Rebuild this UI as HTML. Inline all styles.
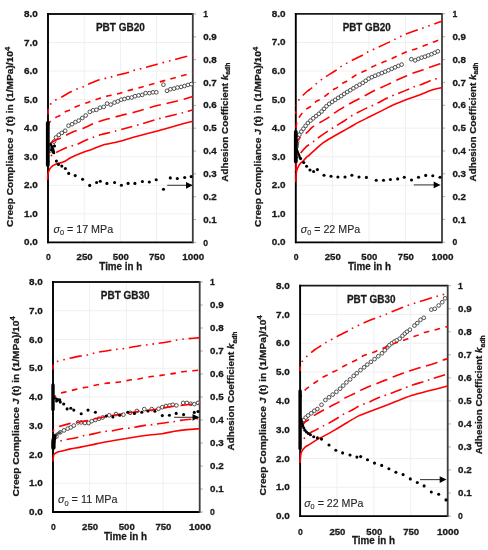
<!DOCTYPE html>
<html><head><meta charset="utf-8"><title>Creep compliance charts</title>
<style>html,body{margin:0;padding:0;background:#fff;}body{width:488px;height:550px;overflow:hidden;}svg{display:block;}</style>
</head><body>
<svg width="488" height="550" viewBox="0 0 488 550" font-family='"Liberation Sans", "DejaVu Sans", sans-serif'>
<style>.b{font-weight:bold;fill:#1a1a1a;stroke:#1a1a1a;stroke-width:0.28px;}</style>
<rect width="488" height="550" fill="#fff"/>
<g>
<path d="M84.20,14.00V242.40 M120.40,14.00V242.40 M156.60,14.00V242.40 M48.00,213.85H192.80 M48.00,185.30H192.80 M48.00,156.75H192.80 M48.00,128.20H192.80 M48.00,99.65H192.80 M48.00,71.10H192.80 M48.00,42.55H192.80" stroke="#f0f0f0" stroke-width="1" fill="none"/>
<path d="M192.80,242.40H196.00 M192.80,219.56H196.00 M192.80,196.72H196.00 M192.80,173.88H196.00 M192.80,151.04H196.00 M192.80,128.20H196.00 M192.80,105.36H196.00 M192.80,82.52H196.00 M192.80,59.68H196.00 M192.80,36.84H196.00 M192.80,14.00H196.00" stroke="#9a9a9a" stroke-width="0.8" fill="none"/>
<path d="M47.10,14.00H192.80" stroke="#1a1a1a" stroke-width="1.8"/>
<path d="M47.10,242.40H192.80" stroke="#000" stroke-width="1.8"/>
<path d="M48.00,13.10V243.30" stroke="#000" stroke-width="1.9"/>
<path d="M192.80,13.10V243.30" stroke="#3c3c3c" stroke-width="1.8"/>
<circle cx="56.00" cy="137.50" r="1.85" fill="#fff" stroke="#3c3c3c" stroke-width="0.9"/>
<circle cx="58.80" cy="134.90" r="1.85" fill="#fff" stroke="#3c3c3c" stroke-width="0.9"/>
<circle cx="61.80" cy="132.90" r="1.85" fill="#fff" stroke="#3c3c3c" stroke-width="0.9"/>
<circle cx="65.20" cy="130.80" r="1.85" fill="#fff" stroke="#3c3c3c" stroke-width="0.9"/>
<circle cx="68.50" cy="125.70" r="1.85" fill="#fff" stroke="#3c3c3c" stroke-width="0.9"/>
<circle cx="72.10" cy="124.20" r="1.85" fill="#fff" stroke="#3c3c3c" stroke-width="0.9"/>
<circle cx="75.50" cy="122.10" r="1.85" fill="#fff" stroke="#3c3c3c" stroke-width="0.9"/>
<circle cx="78.70" cy="120.60" r="1.85" fill="#fff" stroke="#3c3c3c" stroke-width="0.9"/>
<circle cx="82.30" cy="118.00" r="1.85" fill="#fff" stroke="#3c3c3c" stroke-width="0.9"/>
<circle cx="85.70" cy="115.50" r="1.85" fill="#fff" stroke="#3c3c3c" stroke-width="0.9"/>
<circle cx="89.80" cy="111.90" r="1.85" fill="#fff" stroke="#3c3c3c" stroke-width="0.9"/>
<circle cx="93.10" cy="110.30" r="1.85" fill="#fff" stroke="#3c3c3c" stroke-width="0.9"/>
<circle cx="96.40" cy="109.80" r="1.85" fill="#fff" stroke="#3c3c3c" stroke-width="0.9"/>
<circle cx="100.10" cy="107.70" r="1.85" fill="#fff" stroke="#3c3c3c" stroke-width="0.9"/>
<circle cx="103.70" cy="106.90" r="1.85" fill="#fff" stroke="#3c3c3c" stroke-width="0.9"/>
<circle cx="107.10" cy="103.60" r="1.85" fill="#fff" stroke="#3c3c3c" stroke-width="0.9"/>
<circle cx="110.70" cy="104.60" r="1.85" fill="#fff" stroke="#3c3c3c" stroke-width="0.9"/>
<circle cx="114.50" cy="102.60" r="1.85" fill="#fff" stroke="#3c3c3c" stroke-width="0.9"/>
<circle cx="117.80" cy="101.40" r="1.85" fill="#fff" stroke="#3c3c3c" stroke-width="0.9"/>
<circle cx="121.20" cy="99.70" r="1.85" fill="#fff" stroke="#3c3c3c" stroke-width="0.9"/>
<circle cx="124.50" cy="99.00" r="1.85" fill="#fff" stroke="#3c3c3c" stroke-width="0.9"/>
<circle cx="128.00" cy="98.00" r="1.85" fill="#fff" stroke="#3c3c3c" stroke-width="0.9"/>
<circle cx="131.70" cy="97.50" r="1.85" fill="#fff" stroke="#3c3c3c" stroke-width="0.9"/>
<circle cx="135.00" cy="96.20" r="1.85" fill="#fff" stroke="#3c3c3c" stroke-width="0.9"/>
<circle cx="138.60" cy="95.40" r="1.85" fill="#fff" stroke="#3c3c3c" stroke-width="0.9"/>
<circle cx="142.20" cy="94.90" r="1.85" fill="#fff" stroke="#3c3c3c" stroke-width="0.9"/>
<circle cx="145.60" cy="93.10" r="1.85" fill="#fff" stroke="#3c3c3c" stroke-width="0.9"/>
<circle cx="149.40" cy="93.10" r="1.85" fill="#fff" stroke="#3c3c3c" stroke-width="0.9"/>
<circle cx="153.00" cy="92.30" r="1.85" fill="#fff" stroke="#3c3c3c" stroke-width="0.9"/>
<circle cx="156.30" cy="92.30" r="1.85" fill="#fff" stroke="#3c3c3c" stroke-width="0.9"/>
<circle cx="163.40" cy="84.70" r="1.85" fill="#fff" stroke="#3c3c3c" stroke-width="0.9"/>
<circle cx="167.00" cy="90.80" r="1.85" fill="#fff" stroke="#3c3c3c" stroke-width="0.9"/>
<circle cx="170.40" cy="89.20" r="1.85" fill="#fff" stroke="#3c3c3c" stroke-width="0.9"/>
<circle cx="174.00" cy="88.60" r="1.85" fill="#fff" stroke="#3c3c3c" stroke-width="0.9"/>
<circle cx="177.50" cy="87.50" r="1.85" fill="#fff" stroke="#3c3c3c" stroke-width="0.9"/>
<circle cx="181.10" cy="86.90" r="1.85" fill="#fff" stroke="#3c3c3c" stroke-width="0.9"/>
<circle cx="184.50" cy="86.00" r="1.85" fill="#fff" stroke="#3c3c3c" stroke-width="0.9"/>
<circle cx="187.90" cy="84.90" r="1.85" fill="#fff" stroke="#3c3c3c" stroke-width="0.9"/>
<circle cx="191.30" cy="84.10" r="1.85" fill="#fff" stroke="#3c3c3c" stroke-width="0.9"/>
<circle cx="49.50" cy="148.00" r="1.85" fill="#fff" stroke="#3c3c3c" stroke-width="0.9"/>
<circle cx="51.00" cy="146.00" r="1.85" fill="#fff" stroke="#3c3c3c" stroke-width="0.9"/>
<circle cx="52.50" cy="144.50" r="1.85" fill="#fff" stroke="#3c3c3c" stroke-width="0.9"/>
<circle cx="54.00" cy="141.50" r="1.85" fill="#fff" stroke="#3c3c3c" stroke-width="0.9"/>
<circle cx="50.50" cy="150.50" r="1.85" fill="#fff" stroke="#3c3c3c" stroke-width="0.9"/>
<path d="M48.00,114.60 C48.05,113.67 48.13,110.43 48.30,109.00 C48.47,107.57 48.53,106.90 49.00,106.00 C49.47,105.10 49.93,104.63 51.10,103.60 C52.27,102.57 54.27,100.88 56.00,99.80 C57.73,98.72 59.83,97.98 61.50,97.10 C63.17,96.22 64.42,95.40 66.00,94.50 C67.58,93.60 69.22,92.60 71.00,91.70 C72.78,90.80 74.72,89.90 76.70,89.10 C78.68,88.30 80.93,87.70 82.90,86.90 C84.87,86.10 86.32,85.30 88.50,84.30 C90.68,83.30 93.27,81.88 96.00,80.90 C98.73,79.92 102.35,79.07 104.90,78.40 C107.45,77.73 109.30,77.42 111.30,76.90 C113.30,76.38 114.08,76.02 116.90,75.30 C119.72,74.58 125.38,73.42 128.20,72.60 C131.02,71.78 131.83,71.02 133.80,70.40 C135.77,69.78 137.95,69.43 140.00,68.90 C142.05,68.37 143.38,67.93 146.10,67.20 C148.82,66.47 151.57,65.77 156.30,64.50 C161.03,63.23 168.42,61.23 174.50,59.60 C180.58,57.97 189.75,55.52 192.80,54.70" stroke="#ff0000" stroke-width="1.60" fill="none" stroke-dasharray="12.30 4.90 1.60 4.90 1.60 4.90" stroke-dashoffset="6.50"/>
<path d="M48.00,128.00 C48.08,127.50 48.32,125.83 48.50,125.00 C48.68,124.17 48.52,123.87 49.10,123.00 C49.68,122.13 50.72,120.82 52.00,119.80 C53.28,118.78 55.42,117.65 56.80,116.90 C58.18,116.15 59.03,116.07 60.30,115.30 C61.57,114.53 62.82,113.18 64.40,112.30 C65.98,111.42 68.00,110.90 69.80,110.00 C71.60,109.10 72.50,108.05 75.20,106.90 C77.90,105.75 83.17,104.12 86.00,103.10 C88.83,102.08 88.85,101.92 92.20,100.80 C95.55,99.68 101.98,97.52 106.10,96.40 C110.22,95.28 113.30,95.03 116.90,94.10 C120.50,93.17 124.12,91.82 127.70,90.80 C131.28,89.78 135.77,88.72 138.40,88.00 C141.03,87.28 138.57,87.90 143.50,86.50 C148.43,85.10 159.78,81.90 168.00,79.60 C176.22,77.30 188.67,73.85 192.80,72.70" stroke="#ff0000" stroke-width="1.60" fill="none" stroke-dasharray="5.60 5.50" stroke-dashoffset="8.90"/>
<path d="M48.00,152.00 C48.08,151.17 48.17,148.33 48.50,147.00 C48.83,145.67 49.27,144.92 50.00,144.00 C50.73,143.08 51.00,142.55 52.90,141.50 C54.80,140.45 58.45,139.12 61.40,137.70 C64.35,136.28 66.75,134.67 70.60,133.00 C74.45,131.33 80.13,129.48 84.50,127.70 C88.87,125.92 92.45,123.88 96.80,122.30 C101.15,120.72 106.57,119.35 110.60,118.20 C114.63,117.05 117.20,116.37 121.00,115.40 C124.80,114.43 127.50,114.00 133.40,112.40 C139.30,110.80 149.23,107.67 156.40,105.80 C163.57,103.93 170.33,102.75 176.40,101.20 C182.47,99.65 190.07,97.28 192.80,96.50" stroke="#ff0000" stroke-width="1.60" fill="none" stroke-dasharray="11.60 6.00" stroke-dashoffset="8.29"/>
<path d="M48.00,165.00 C48.17,164.17 48.50,161.50 49.00,160.00 C49.50,158.50 49.97,157.17 51.00,156.00 C52.03,154.83 53.22,154.13 55.20,153.00 C57.18,151.87 60.33,150.33 62.90,149.20 C65.47,148.07 68.28,146.97 70.60,146.20 C72.92,145.43 74.48,145.50 76.80,144.60 C79.12,143.70 81.93,141.95 84.50,140.80 C87.07,139.65 89.38,138.73 92.20,137.70 C95.02,136.67 98.33,135.50 101.40,134.60 C104.47,133.70 107.32,133.13 110.60,132.30 C113.88,131.47 116.40,130.87 121.10,129.60 C125.80,128.33 132.13,126.62 138.80,124.70 C145.47,122.78 153.53,120.15 161.10,118.10 C168.67,116.05 178.92,113.77 184.20,112.40 C189.48,111.03 191.37,110.32 192.80,109.90" stroke="#ff0000" stroke-width="1.60" fill="none" stroke-dasharray="11.60 4.90 1.60 4.90" stroke-dashoffset="7.01"/>
<path d="M47.60,180.00 C47.63,179.33 47.65,177.33 47.80,176.00 C47.95,174.67 48.03,173.38 48.50,172.00 C48.97,170.62 49.48,168.93 50.60,167.70 C51.72,166.47 52.90,165.63 55.20,164.60 C57.50,163.57 61.83,162.65 64.40,161.50 C66.97,160.35 67.77,159.12 70.60,157.70 C73.43,156.28 77.80,154.42 81.40,153.00 C85.00,151.58 88.35,150.60 92.20,149.20 C96.05,147.80 100.03,145.88 104.50,144.60 C108.97,143.32 114.18,142.72 119.00,141.50 C123.82,140.28 127.17,139.02 133.40,137.30 C139.63,135.58 148.72,133.30 156.40,131.20 C164.08,129.10 173.43,126.37 179.50,124.70 C185.57,123.03 190.58,121.78 192.80,121.20" stroke="#ff0000" stroke-width="1.60" fill="none"/>
<path d="M47.80,123.00 C47.80,125.83 47.80,133.00 47.80,140.00 C47.80,147.00 47.80,160.83 47.80,165.00" stroke="#000" stroke-width="3.8" stroke-linecap="round" fill="none"/>
<path d="M50.50,144.00 C50.92,144.83 52.42,147.50 53.00,149.00 C53.58,150.50 53.83,152.33 54.00,153.00" stroke="#000" stroke-width="2.4" stroke-linecap="round" fill="none"/>
<circle cx="56.40" cy="161.10" r="1.55" fill="#000"/>
<circle cx="58.50" cy="164.40" r="1.55" fill="#000"/>
<circle cx="61.80" cy="166.10" r="1.55" fill="#000"/>
<circle cx="65.40" cy="168.50" r="1.55" fill="#000"/>
<circle cx="68.70" cy="173.40" r="1.55" fill="#000"/>
<circle cx="75.20" cy="175.60" r="1.55" fill="#000"/>
<circle cx="82.60" cy="179.20" r="1.55" fill="#000"/>
<circle cx="89.70" cy="185.40" r="1.55" fill="#000"/>
<circle cx="96.60" cy="182.50" r="1.55" fill="#000"/>
<circle cx="100.30" cy="181.30" r="1.55" fill="#000"/>
<circle cx="106.90" cy="183.40" r="1.55" fill="#000"/>
<circle cx="114.60" cy="182.50" r="1.55" fill="#000"/>
<circle cx="121.40" cy="185.30" r="1.55" fill="#000"/>
<circle cx="128.10" cy="183.40" r="1.55" fill="#000"/>
<circle cx="134.90" cy="183.40" r="1.55" fill="#000"/>
<circle cx="142.40" cy="181.50" r="1.55" fill="#000"/>
<circle cx="149.30" cy="182.00" r="1.55" fill="#000"/>
<circle cx="156.20" cy="179.80" r="1.55" fill="#000"/>
<circle cx="163.50" cy="189.20" r="1.55" fill="#000"/>
<circle cx="170.30" cy="177.90" r="1.55" fill="#000"/>
<circle cx="177.30" cy="178.50" r="1.55" fill="#000"/>
<circle cx="184.70" cy="177.50" r="1.55" fill="#000"/>
<circle cx="191.20" cy="176.60" r="1.55" fill="#000"/>
<circle cx="51.50" cy="150.00" r="1.55" fill="#000"/>
<circle cx="53.50" cy="152.50" r="1.55" fill="#000"/>
<circle cx="54.50" cy="146.00" r="1.55" fill="#000"/>
<path d="M167.20,185.30H187.80" stroke="#404040" stroke-width="1.1"/>
<path d="M186.00,181.90L192.80,185.30L186.00,188.70Z" fill="#000"/>
<text x="37.80" y="245.40" text-anchor="end" font-size="8.6" class="b" textLength="13.8" lengthAdjust="spacingAndGlyphs">0.0</text>
<text x="37.80" y="216.85" text-anchor="end" font-size="8.6" class="b" textLength="13.8" lengthAdjust="spacingAndGlyphs">1.0</text>
<text x="37.80" y="188.30" text-anchor="end" font-size="8.6" class="b" textLength="13.8" lengthAdjust="spacingAndGlyphs">2.0</text>
<text x="37.80" y="159.75" text-anchor="end" font-size="8.6" class="b" textLength="13.8" lengthAdjust="spacingAndGlyphs">3.0</text>
<text x="37.80" y="131.20" text-anchor="end" font-size="8.6" class="b" textLength="13.8" lengthAdjust="spacingAndGlyphs">4.0</text>
<text x="37.80" y="102.65" text-anchor="end" font-size="8.6" class="b" textLength="13.8" lengthAdjust="spacingAndGlyphs">5.0</text>
<text x="37.80" y="74.10" text-anchor="end" font-size="8.6" class="b" textLength="13.8" lengthAdjust="spacingAndGlyphs">6.0</text>
<text x="37.80" y="45.55" text-anchor="end" font-size="8.6" class="b" textLength="13.8" lengthAdjust="spacingAndGlyphs">7.0</text>
<text x="37.80" y="17.00" text-anchor="end" font-size="8.6" class="b" textLength="13.8" lengthAdjust="spacingAndGlyphs">8.0</text>
<text x="203.20" y="245.50" font-size="8.6" class="b">0</text>
<text x="203.20" y="222.66" font-size="8.6" class="b" textLength="13.6" lengthAdjust="spacingAndGlyphs">0.1</text>
<text x="203.20" y="199.82" font-size="8.6" class="b" textLength="13.6" lengthAdjust="spacingAndGlyphs">0.2</text>
<text x="203.20" y="176.98" font-size="8.6" class="b" textLength="13.6" lengthAdjust="spacingAndGlyphs">0.3</text>
<text x="203.20" y="154.14" font-size="8.6" class="b" textLength="13.6" lengthAdjust="spacingAndGlyphs">0.4</text>
<text x="203.20" y="131.30" font-size="8.6" class="b" textLength="13.6" lengthAdjust="spacingAndGlyphs">0.5</text>
<text x="203.20" y="108.46" font-size="8.6" class="b" textLength="13.6" lengthAdjust="spacingAndGlyphs">0.6</text>
<text x="203.20" y="85.62" font-size="8.6" class="b" textLength="13.6" lengthAdjust="spacingAndGlyphs">0.7</text>
<text x="203.20" y="62.78" font-size="8.6" class="b" textLength="13.6" lengthAdjust="spacingAndGlyphs">0.8</text>
<text x="203.20" y="39.94" font-size="8.6" class="b" textLength="13.6" lengthAdjust="spacingAndGlyphs">0.9</text>
<text x="203.20" y="17.10" font-size="8.6" class="b">1</text>
<text x="48.40" y="259.90" text-anchor="middle" font-size="8.6" class="b">0</text>
<text x="84.60" y="259.90" text-anchor="middle" font-size="8.6" class="b" textLength="16" lengthAdjust="spacingAndGlyphs">250</text>
<text x="120.80" y="259.90" text-anchor="middle" font-size="8.6" class="b" textLength="16" lengthAdjust="spacingAndGlyphs">500</text>
<text x="157.00" y="259.90" text-anchor="middle" font-size="8.6" class="b" textLength="16" lengthAdjust="spacingAndGlyphs">750</text>
<text x="193.20" y="259.90" text-anchor="middle" font-size="8.6" class="b" textLength="22" lengthAdjust="spacingAndGlyphs">1000</text>
<text x="120.80" y="269.60" text-anchor="middle" font-size="10.6" class="b" textLength="43" lengthAdjust="spacingAndGlyphs">Time in h</text>
<text x="95.90" y="30.80" font-size="11" class="b" textLength="48.9" lengthAdjust="spacingAndGlyphs">PBT GB20</text>
<text x="53.40" y="232.70" font-size="10.8" fill="#262626" stroke="#262626" stroke-width="0.12" textLength="59.8" lengthAdjust="spacingAndGlyphs"><tspan font-style="italic">σ</tspan><tspan font-size="7.4" dy="2.4">0</tspan><tspan dy="-2.4"> = 17 MPa</tspan></text>
<text transform="translate(13.20,136.90) rotate(-90)" text-anchor="middle" font-size="9.5" class="b" textLength="180" lengthAdjust="spacingAndGlyphs">Creep Compliance <tspan font-style="italic">J</tspan> (t) in (1/MPa)/10<tspan font-size="7" dy="-3.6">4</tspan></text>
<text transform="translate(227.60,122.20) rotate(-90)" text-anchor="middle" font-size="9.6" class="b" textLength="119" lengthAdjust="spacingAndGlyphs">Adhesion Coefficient <tspan font-style="italic">k</tspan><tspan font-size="6.6" dy="2.6">adh</tspan></text>
</g>
<g>
<path d="M332.35,13.90V242.30 M368.90,13.90V242.30 M405.45,13.90V242.30 M295.80,213.75H442.00 M295.80,185.20H442.00 M295.80,156.65H442.00 M295.80,128.10H442.00 M295.80,99.55H442.00 M295.80,71.00H442.00 M295.80,42.45H442.00" stroke="#f0f0f0" stroke-width="1" fill="none"/>
<path d="M442.00,242.30H445.20 M442.00,219.46H445.20 M442.00,196.62H445.20 M442.00,173.78H445.20 M442.00,150.94H445.20 M442.00,128.10H445.20 M442.00,105.26H445.20 M442.00,82.42H445.20 M442.00,59.58H445.20 M442.00,36.74H445.20 M442.00,13.90H445.20" stroke="#9a9a9a" stroke-width="0.8" fill="none"/>
<path d="M294.90,13.90H442.00" stroke="#1a1a1a" stroke-width="1.8"/>
<path d="M294.90,242.30H442.00" stroke="#000" stroke-width="1.8"/>
<path d="M295.80,13.00V243.20" stroke="#000" stroke-width="1.9"/>
<path d="M442.00,13.00V243.20" stroke="#3c3c3c" stroke-width="1.8"/>
<circle cx="297.20" cy="141.50" r="1.85" fill="#fff" stroke="#3c3c3c" stroke-width="0.9"/>
<circle cx="298.01" cy="138.00" r="1.85" fill="#fff" stroke="#3c3c3c" stroke-width="0.9"/>
<circle cx="299.37" cy="134.67" r="1.85" fill="#fff" stroke="#3c3c3c" stroke-width="0.9"/>
<circle cx="301.28" cy="131.63" r="1.85" fill="#fff" stroke="#3c3c3c" stroke-width="0.9"/>
<circle cx="303.43" cy="128.75" r="1.85" fill="#fff" stroke="#3c3c3c" stroke-width="0.9"/>
<circle cx="305.60" cy="125.87" r="1.85" fill="#fff" stroke="#3c3c3c" stroke-width="0.9"/>
<circle cx="307.85" cy="123.07" r="1.85" fill="#fff" stroke="#3c3c3c" stroke-width="0.9"/>
<circle cx="310.49" cy="120.62" r="1.85" fill="#fff" stroke="#3c3c3c" stroke-width="0.9"/>
<circle cx="313.25" cy="118.32" r="1.85" fill="#fff" stroke="#3c3c3c" stroke-width="0.9"/>
<circle cx="316.05" cy="116.06" r="1.85" fill="#fff" stroke="#3c3c3c" stroke-width="0.9"/>
<circle cx="318.86" cy="113.81" r="1.85" fill="#fff" stroke="#3c3c3c" stroke-width="0.9"/>
<circle cx="321.61" cy="111.50" r="1.85" fill="#fff" stroke="#3c3c3c" stroke-width="0.9"/>
<circle cx="323.99" cy="108.81" r="1.85" fill="#fff" stroke="#3c3c3c" stroke-width="0.9"/>
<circle cx="326.47" cy="106.20" r="1.85" fill="#fff" stroke="#3c3c3c" stroke-width="0.9"/>
<circle cx="329.20" cy="103.88" r="1.85" fill="#fff" stroke="#3c3c3c" stroke-width="0.9"/>
<circle cx="332.19" cy="101.87" r="1.85" fill="#fff" stroke="#3c3c3c" stroke-width="0.9"/>
<circle cx="335.18" cy="99.88" r="1.85" fill="#fff" stroke="#3c3c3c" stroke-width="0.9"/>
<circle cx="338.17" cy="97.86" r="1.85" fill="#fff" stroke="#3c3c3c" stroke-width="0.9"/>
<circle cx="341.26" cy="96.02" r="1.85" fill="#fff" stroke="#3c3c3c" stroke-width="0.9"/>
<circle cx="344.19" cy="93.94" r="1.85" fill="#fff" stroke="#3c3c3c" stroke-width="0.9"/>
<circle cx="347.20" cy="91.97" r="1.85" fill="#fff" stroke="#3c3c3c" stroke-width="0.9"/>
<circle cx="350.31" cy="90.16" r="1.85" fill="#fff" stroke="#3c3c3c" stroke-width="0.9"/>
<circle cx="353.39" cy="88.28" r="1.85" fill="#fff" stroke="#3c3c3c" stroke-width="0.9"/>
<circle cx="356.46" cy="86.40" r="1.85" fill="#fff" stroke="#3c3c3c" stroke-width="0.9"/>
<circle cx="359.61" cy="84.66" r="1.85" fill="#fff" stroke="#3c3c3c" stroke-width="0.9"/>
<circle cx="362.76" cy="82.92" r="1.85" fill="#fff" stroke="#3c3c3c" stroke-width="0.9"/>
<circle cx="365.68" cy="80.82" r="1.85" fill="#fff" stroke="#3c3c3c" stroke-width="0.9"/>
<circle cx="368.60" cy="78.71" r="1.85" fill="#fff" stroke="#3c3c3c" stroke-width="0.9"/>
<circle cx="371.82" cy="77.15" r="1.85" fill="#fff" stroke="#3c3c3c" stroke-width="0.9"/>
<circle cx="375.15" cy="75.77" r="1.85" fill="#fff" stroke="#3c3c3c" stroke-width="0.9"/>
<circle cx="378.48" cy="74.40" r="1.85" fill="#fff" stroke="#3c3c3c" stroke-width="0.9"/>
<circle cx="381.81" cy="73.05" r="1.85" fill="#fff" stroke="#3c3c3c" stroke-width="0.9"/>
<circle cx="385.14" cy="71.68" r="1.85" fill="#fff" stroke="#3c3c3c" stroke-width="0.9"/>
<circle cx="388.44" cy="70.25" r="1.85" fill="#fff" stroke="#3c3c3c" stroke-width="0.9"/>
<circle cx="391.74" cy="68.80" r="1.85" fill="#fff" stroke="#3c3c3c" stroke-width="0.9"/>
<circle cx="395.03" cy="67.34" r="1.85" fill="#fff" stroke="#3c3c3c" stroke-width="0.9"/>
<circle cx="398.33" cy="65.89" r="1.85" fill="#fff" stroke="#3c3c3c" stroke-width="0.9"/>
<circle cx="401.67" cy="64.58" r="1.85" fill="#fff" stroke="#3c3c3c" stroke-width="0.9"/>
<circle cx="411.30" cy="59.20" r="1.85" fill="#fff" stroke="#3c3c3c" stroke-width="0.9"/>
<circle cx="415.20" cy="60.40" r="1.85" fill="#fff" stroke="#3c3c3c" stroke-width="0.9"/>
<circle cx="418.35" cy="58.87" r="1.85" fill="#fff" stroke="#3c3c3c" stroke-width="0.9"/>
<circle cx="421.61" cy="57.61" r="1.85" fill="#fff" stroke="#3c3c3c" stroke-width="0.9"/>
<circle cx="424.98" cy="56.68" r="1.85" fill="#fff" stroke="#3c3c3c" stroke-width="0.9"/>
<circle cx="428.23" cy="55.40" r="1.85" fill="#fff" stroke="#3c3c3c" stroke-width="0.9"/>
<circle cx="431.51" cy="54.20" r="1.85" fill="#fff" stroke="#3c3c3c" stroke-width="0.9"/>
<circle cx="434.70" cy="52.78" r="1.85" fill="#fff" stroke="#3c3c3c" stroke-width="0.9"/>
<circle cx="437.86" cy="51.30" r="1.85" fill="#fff" stroke="#3c3c3c" stroke-width="0.9"/>
<circle cx="296.80" cy="144.00" r="1.85" fill="#fff" stroke="#3c3c3c" stroke-width="0.9"/>
<circle cx="296.60" cy="146.50" r="1.85" fill="#fff" stroke="#3c3c3c" stroke-width="0.9"/>
<path d="M296.00,114.00 C296.05,112.67 296.13,108.00 296.30,106.00 C296.47,104.00 296.58,103.00 297.00,102.00 C297.42,101.00 297.88,101.05 298.80,100.00 C299.72,98.95 301.13,97.12 302.50,95.70 C303.87,94.28 305.47,92.78 307.00,91.50 C308.53,90.22 310.20,89.25 311.70,88.00 C313.20,86.75 314.43,85.35 316.00,84.00 C317.57,82.65 319.47,81.13 321.10,79.90 C322.73,78.67 323.37,78.17 325.80,76.60 C328.23,75.03 333.23,72.13 335.70,70.50 C338.17,68.87 338.90,67.93 340.60,66.80 C342.30,65.67 344.05,64.73 345.90,63.70 C347.75,62.67 349.10,61.93 351.70,60.60 C354.30,59.27 358.98,57.03 361.50,55.70 C364.02,54.37 364.95,53.58 366.80,52.60 C368.65,51.62 370.62,50.73 372.60,49.80 C374.58,48.87 375.93,48.28 378.70,47.00 C381.47,45.72 386.62,43.33 389.20,42.10 C391.78,40.87 392.43,40.48 394.20,39.60 C395.97,38.72 397.93,37.68 399.80,36.80 C401.67,35.92 402.63,35.38 405.40,34.30 C408.17,33.22 413.60,31.28 416.40,30.30 C419.20,29.32 420.25,29.12 422.20,28.40 C424.15,27.68 426.18,26.72 428.10,26.00 C430.02,25.28 431.38,24.90 433.70,24.10 C436.02,23.30 440.62,21.68 442.00,21.20" stroke="#ff0000" stroke-width="1.60" fill="none" stroke-dasharray="12.30 4.90 1.60 4.90 1.60 4.90" stroke-dashoffset="9.45"/>
<path d="M296.00,130.00 C296.08,129.00 296.25,125.75 296.50,124.00 C296.75,122.25 297.12,120.53 297.50,119.50 C297.88,118.47 297.97,118.90 298.80,117.80 C299.63,116.70 301.28,114.33 302.50,112.90 C303.72,111.47 304.78,110.25 306.10,109.20 C307.42,108.15 308.97,107.73 310.40,106.60 C311.83,105.47 313.15,103.57 314.70,102.40 C316.25,101.23 318.15,100.52 319.70,99.60 C321.25,98.68 322.47,97.97 324.00,96.90 C325.53,95.83 327.47,94.33 328.90,93.20 C330.33,92.07 331.17,91.08 332.60,90.10 C334.03,89.12 335.87,88.42 337.50,87.30 C339.13,86.18 340.77,84.47 342.40,83.40 C344.03,82.33 345.75,81.82 347.30,80.90 C348.85,79.98 350.15,78.93 351.70,77.90 C353.25,76.87 354.97,75.62 356.60,74.70 C358.23,73.78 359.87,73.15 361.50,72.40 C363.13,71.65 364.75,71.05 366.40,70.20 C368.05,69.35 369.75,68.18 371.40,67.30 C373.05,66.42 374.67,65.62 376.30,64.90 C377.93,64.18 379.47,63.72 381.20,63.00 C382.93,62.28 385.05,61.28 386.70,60.60 C388.35,59.92 389.53,59.58 391.10,58.90 C392.67,58.22 394.33,57.33 396.10,56.50 C397.87,55.67 399.95,54.68 401.70,53.90 C403.45,53.12 404.87,52.45 406.60,51.80 C408.33,51.15 410.37,50.55 412.10,50.00 C413.83,49.45 415.25,49.12 417.00,48.50 C418.75,47.88 420.85,46.98 422.60,46.30 C424.35,45.62 425.77,45.08 427.50,44.40 C429.23,43.72 431.15,42.92 433.00,42.20 C434.85,41.48 437.10,40.63 438.60,40.10 C440.10,39.57 441.43,39.18 442.00,39.00" stroke="#ff0000" stroke-width="1.60" fill="none" stroke-dasharray="5.60 5.50" stroke-dashoffset="9.10"/>
<path d="M296.00,150.00 C296.08,149.17 296.25,146.50 296.50,145.00 C296.75,143.50 296.92,142.25 297.50,141.00 C298.08,139.75 298.45,138.88 300.00,137.50 C301.55,136.12 304.75,134.42 306.80,132.70 C308.85,130.98 310.05,128.93 312.30,127.20 C314.55,125.47 317.43,124.03 320.30,122.30 C323.17,120.57 327.05,118.42 329.50,116.80 C331.95,115.18 332.65,114.18 335.00,112.60 C337.35,111.02 340.93,108.90 343.60,107.30 C346.27,105.70 348.30,104.50 351.00,103.00 C353.70,101.50 357.52,99.50 359.80,98.30 C362.08,97.10 362.15,97.13 364.70,95.80 C367.25,94.47 372.43,91.63 375.10,90.30 C377.77,88.97 378.03,89.03 380.70,87.80 C383.37,86.57 388.47,84.15 391.10,82.90 C393.73,81.65 393.90,81.48 396.50,80.30 C399.10,79.12 404.08,76.95 406.70,75.80 C409.32,74.65 409.43,74.42 412.20,73.40 C414.97,72.38 420.63,70.63 423.30,69.70 C425.97,68.77 425.53,68.73 428.20,67.80 C430.87,66.87 437.00,64.87 439.30,64.10 C441.60,63.33 441.55,63.35 442.00,63.20" stroke="#ff0000" stroke-width="1.60" fill="none" stroke-dasharray="11.60 6.00" stroke-dashoffset="14.80"/>
<path d="M296.00,171.00 C296.03,169.83 295.98,166.08 296.20,164.00 C296.42,161.92 296.77,160.07 297.30,158.50 C297.83,156.93 297.93,156.53 299.40,154.60 C300.87,152.67 304.05,148.83 306.10,146.90 C308.15,144.97 309.95,144.33 311.70,143.00 C313.45,141.67 314.15,140.72 316.60,138.90 C319.05,137.08 323.98,133.73 326.40,132.10 C328.82,130.47 329.45,130.17 331.10,129.10 C332.75,128.03 334.00,127.13 336.30,125.70 C338.60,124.27 342.53,122.05 344.90,120.50 C347.27,118.95 348.53,117.65 350.50,116.40 C352.47,115.15 354.03,114.38 356.70,113.00 C359.37,111.62 363.95,109.32 366.50,108.10 C369.05,106.88 370.15,106.55 372.00,105.70 C373.85,104.85 374.93,104.33 377.60,103.00 C380.27,101.67 385.33,99.00 388.00,97.70 C390.67,96.40 391.72,95.98 393.60,95.20 C395.48,94.42 396.60,94.08 399.30,93.00 C402.00,91.92 407.13,89.82 409.80,88.70 C412.47,87.58 413.37,87.02 415.30,86.30 C417.23,85.58 418.63,85.43 421.40,84.40 C424.17,83.37 429.17,81.12 431.90,80.10 C434.63,79.08 436.12,78.85 437.80,78.30 C439.48,77.75 441.30,77.05 442.00,76.80" stroke="#ff0000" stroke-width="1.60" fill="none" stroke-dasharray="11.60 4.90 1.60 4.90" stroke-dashoffset="3.68"/>
<path d="M295.90,182.00 C295.93,180.83 295.97,176.85 296.10,175.00 C296.23,173.15 296.32,172.32 296.70,170.90 C297.08,169.48 297.77,167.77 298.40,166.50 C299.03,165.23 299.73,164.20 300.50,163.30 C301.27,162.40 302.08,162.02 303.00,161.10 C303.92,160.18 304.95,158.80 306.00,157.80 C307.05,156.80 307.95,156.30 309.30,155.10 C310.65,153.90 311.87,152.58 314.10,150.60 C316.33,148.62 319.62,145.47 322.70,143.20 C325.78,140.93 329.32,138.95 332.60,137.00 C335.88,135.05 339.17,133.33 342.40,131.50 C345.63,129.67 349.52,127.43 352.00,126.00 C354.48,124.57 354.37,124.45 357.30,122.90 C360.23,121.35 365.50,118.75 369.60,116.70 C373.70,114.65 377.80,112.62 381.90,110.60 C386.00,108.58 389.97,106.50 394.20,104.60 C398.43,102.70 403.07,100.82 407.30,99.20 C411.53,97.58 415.50,96.43 419.60,94.90 C423.70,93.37 428.17,91.23 431.90,90.00 C435.63,88.77 440.32,87.92 442.00,87.50" stroke="#ff0000" stroke-width="1.60" fill="none"/>
<path d="M295.80,132.00 C295.80,134.17 295.80,140.10 295.80,145.00 C295.80,149.90 295.80,158.67 295.80,161.40" stroke="#000" stroke-width="3.8" stroke-linecap="round" fill="none"/>
<path d="M297.00,150.00 C297.33,150.83 298.50,153.67 299.00,155.00 C299.50,156.33 299.83,157.50 300.00,158.00" stroke="#000" stroke-width="2.2" stroke-linecap="round" fill="none"/>
<circle cx="300.60" cy="158.60" r="1.55" fill="#000"/>
<circle cx="303.70" cy="162.50" r="1.55" fill="#000"/>
<circle cx="306.60" cy="166.20" r="1.55" fill="#000"/>
<circle cx="310.00" cy="170.00" r="1.55" fill="#000"/>
<circle cx="313.60" cy="171.50" r="1.55" fill="#000"/>
<circle cx="317.40" cy="169.60" r="1.55" fill="#000"/>
<circle cx="324.00" cy="175.20" r="1.55" fill="#000"/>
<circle cx="331.00" cy="176.20" r="1.55" fill="#000"/>
<circle cx="337.90" cy="177.00" r="1.55" fill="#000"/>
<circle cx="345.00" cy="177.00" r="1.55" fill="#000"/>
<circle cx="351.90" cy="175.20" r="1.55" fill="#000"/>
<circle cx="359.00" cy="177.00" r="1.55" fill="#000"/>
<circle cx="366.40" cy="177.40" r="1.55" fill="#000"/>
<circle cx="376.20" cy="180.30" r="1.55" fill="#000"/>
<circle cx="383.50" cy="180.30" r="1.55" fill="#000"/>
<circle cx="390.40" cy="179.50" r="1.55" fill="#000"/>
<circle cx="397.70" cy="178.90" r="1.55" fill="#000"/>
<circle cx="404.30" cy="177.20" r="1.55" fill="#000"/>
<circle cx="411.50" cy="180.00" r="1.55" fill="#000"/>
<circle cx="418.50" cy="177.20" r="1.55" fill="#000"/>
<circle cx="425.70" cy="175.40" r="1.55" fill="#000"/>
<circle cx="432.80" cy="175.70" r="1.55" fill="#000"/>
<circle cx="440.00" cy="177.20" r="1.55" fill="#000"/>
<path d="M413.80,184.90H435.50" stroke="#404040" stroke-width="1.1"/>
<path d="M433.70,181.50L440.50,184.90L433.70,188.30Z" fill="#000"/>
<text x="285.60" y="245.30" text-anchor="end" font-size="8.6" class="b" textLength="13.8" lengthAdjust="spacingAndGlyphs">0.0</text>
<text x="285.60" y="216.75" text-anchor="end" font-size="8.6" class="b" textLength="13.8" lengthAdjust="spacingAndGlyphs">1.0</text>
<text x="285.60" y="188.20" text-anchor="end" font-size="8.6" class="b" textLength="13.8" lengthAdjust="spacingAndGlyphs">2.0</text>
<text x="285.60" y="159.65" text-anchor="end" font-size="8.6" class="b" textLength="13.8" lengthAdjust="spacingAndGlyphs">3.0</text>
<text x="285.60" y="131.10" text-anchor="end" font-size="8.6" class="b" textLength="13.8" lengthAdjust="spacingAndGlyphs">4.0</text>
<text x="285.60" y="102.55" text-anchor="end" font-size="8.6" class="b" textLength="13.8" lengthAdjust="spacingAndGlyphs">5.0</text>
<text x="285.60" y="74.00" text-anchor="end" font-size="8.6" class="b" textLength="13.8" lengthAdjust="spacingAndGlyphs">6.0</text>
<text x="285.60" y="45.45" text-anchor="end" font-size="8.6" class="b" textLength="13.8" lengthAdjust="spacingAndGlyphs">7.0</text>
<text x="285.60" y="16.90" text-anchor="end" font-size="8.6" class="b" textLength="13.8" lengthAdjust="spacingAndGlyphs">8.0</text>
<text x="452.40" y="245.40" font-size="8.6" class="b">0</text>
<text x="452.40" y="222.56" font-size="8.6" class="b" textLength="13.6" lengthAdjust="spacingAndGlyphs">0.1</text>
<text x="452.40" y="199.72" font-size="8.6" class="b" textLength="13.6" lengthAdjust="spacingAndGlyphs">0.2</text>
<text x="452.40" y="176.88" font-size="8.6" class="b" textLength="13.6" lengthAdjust="spacingAndGlyphs">0.3</text>
<text x="452.40" y="154.04" font-size="8.6" class="b" textLength="13.6" lengthAdjust="spacingAndGlyphs">0.4</text>
<text x="452.40" y="131.20" font-size="8.6" class="b" textLength="13.6" lengthAdjust="spacingAndGlyphs">0.5</text>
<text x="452.40" y="108.36" font-size="8.6" class="b" textLength="13.6" lengthAdjust="spacingAndGlyphs">0.6</text>
<text x="452.40" y="85.52" font-size="8.6" class="b" textLength="13.6" lengthAdjust="spacingAndGlyphs">0.7</text>
<text x="452.40" y="62.68" font-size="8.6" class="b" textLength="13.6" lengthAdjust="spacingAndGlyphs">0.8</text>
<text x="452.40" y="39.84" font-size="8.6" class="b" textLength="13.6" lengthAdjust="spacingAndGlyphs">0.9</text>
<text x="452.40" y="17.00" font-size="8.6" class="b">1</text>
<text x="296.20" y="259.80" text-anchor="middle" font-size="8.6" class="b">0</text>
<text x="332.75" y="259.80" text-anchor="middle" font-size="8.6" class="b" textLength="16" lengthAdjust="spacingAndGlyphs">250</text>
<text x="369.30" y="259.80" text-anchor="middle" font-size="8.6" class="b" textLength="16" lengthAdjust="spacingAndGlyphs">500</text>
<text x="405.85" y="259.80" text-anchor="middle" font-size="8.6" class="b" textLength="16" lengthAdjust="spacingAndGlyphs">750</text>
<text x="442.40" y="259.80" text-anchor="middle" font-size="8.6" class="b" textLength="22" lengthAdjust="spacingAndGlyphs">1000</text>
<text x="369.50" y="269.90" text-anchor="middle" font-size="10.6" class="b" textLength="43" lengthAdjust="spacingAndGlyphs">Time in h</text>
<text x="342.70" y="30.80" font-size="11" class="b" textLength="48.0" lengthAdjust="spacingAndGlyphs">PBT GB20</text>
<text x="300.70" y="233.00" font-size="10.8" fill="#262626" stroke="#262626" stroke-width="0.12" textLength="59.5" lengthAdjust="spacingAndGlyphs"><tspan font-style="italic">σ</tspan><tspan font-size="7.4" dy="2.4">0</tspan><tspan dy="-2.4"> = 22 MPa</tspan></text>
<text transform="translate(261.10,136.90) rotate(-90)" text-anchor="middle" font-size="9.5" class="b" textLength="180" lengthAdjust="spacingAndGlyphs">Creep Compliance <tspan font-style="italic">J</tspan> (t) in (1/MPa)/10<tspan font-size="7" dy="-3.6">4</tspan></text>
<text transform="translate(475.60,122.00) rotate(-90)" text-anchor="middle" font-size="9.6" class="b" textLength="119" lengthAdjust="spacingAndGlyphs">Adhesion Coefficient <tspan font-style="italic">k</tspan><tspan font-size="6.6" dy="2.6">adh</tspan></text>
</g>
<g>
<path d="M89.67,282.00V512.00 M126.35,282.00V512.00 M163.02,282.00V512.00 M53.00,483.25H199.70 M53.00,454.50H199.70 M53.00,425.75H199.70 M53.00,397.00H199.70 M53.00,368.25H199.70 M53.00,339.50H199.70 M53.00,310.75H199.70" stroke="#f0f0f0" stroke-width="1" fill="none"/>
<path d="M199.70,512.00H202.90 M199.70,489.00H202.90 M199.70,466.00H202.90 M199.70,443.00H202.90 M199.70,420.00H202.90 M199.70,397.00H202.90 M199.70,374.00H202.90 M199.70,351.00H202.90 M199.70,328.00H202.90 M199.70,305.00H202.90 M199.70,282.00H202.90" stroke="#9a9a9a" stroke-width="0.8" fill="none"/>
<path d="M52.10,282.00H199.70" stroke="#1a1a1a" stroke-width="1.8"/>
<path d="M52.10,512.00H199.70" stroke="#000" stroke-width="1.8"/>
<path d="M53.00,281.10V512.90" stroke="#000" stroke-width="1.9"/>
<path d="M199.70,281.10V512.90" stroke="#3c3c3c" stroke-width="1.8"/>
<circle cx="56.50" cy="436.50" r="1.85" fill="#fff" stroke="#3c3c3c" stroke-width="0.9"/>
<circle cx="60.30" cy="432.30" r="1.85" fill="#fff" stroke="#3c3c3c" stroke-width="0.9"/>
<circle cx="64.00" cy="430.40" r="1.85" fill="#fff" stroke="#3c3c3c" stroke-width="0.9"/>
<circle cx="67.70" cy="428.60" r="1.85" fill="#fff" stroke="#3c3c3c" stroke-width="0.9"/>
<circle cx="70.80" cy="427.40" r="1.85" fill="#fff" stroke="#3c3c3c" stroke-width="0.9"/>
<circle cx="73.80" cy="425.50" r="1.85" fill="#fff" stroke="#3c3c3c" stroke-width="0.9"/>
<circle cx="78.10" cy="422.40" r="1.85" fill="#fff" stroke="#3c3c3c" stroke-width="0.9"/>
<circle cx="81.20" cy="422.40" r="1.85" fill="#fff" stroke="#3c3c3c" stroke-width="0.9"/>
<circle cx="84.90" cy="423.00" r="1.85" fill="#fff" stroke="#3c3c3c" stroke-width="0.9"/>
<circle cx="88.60" cy="423.00" r="1.85" fill="#fff" stroke="#3c3c3c" stroke-width="0.9"/>
<circle cx="91.70" cy="421.20" r="1.85" fill="#fff" stroke="#3c3c3c" stroke-width="0.9"/>
<circle cx="95.40" cy="420.00" r="1.85" fill="#fff" stroke="#3c3c3c" stroke-width="0.9"/>
<circle cx="99.00" cy="418.70" r="1.85" fill="#fff" stroke="#3c3c3c" stroke-width="0.9"/>
<circle cx="102.70" cy="417.50" r="1.85" fill="#fff" stroke="#3c3c3c" stroke-width="0.9"/>
<circle cx="109.20" cy="415.30" r="1.85" fill="#fff" stroke="#3c3c3c" stroke-width="0.9"/>
<circle cx="116.00" cy="414.10" r="1.85" fill="#fff" stroke="#3c3c3c" stroke-width="0.9"/>
<circle cx="123.40" cy="414.70" r="1.85" fill="#fff" stroke="#3c3c3c" stroke-width="0.9"/>
<circle cx="130.10" cy="412.80" r="1.85" fill="#fff" stroke="#3c3c3c" stroke-width="0.9"/>
<circle cx="136.90" cy="411.00" r="1.85" fill="#fff" stroke="#3c3c3c" stroke-width="0.9"/>
<circle cx="144.30" cy="409.10" r="1.85" fill="#fff" stroke="#3c3c3c" stroke-width="0.9"/>
<circle cx="151.70" cy="409.10" r="1.85" fill="#fff" stroke="#3c3c3c" stroke-width="0.9"/>
<circle cx="158.50" cy="408.80" r="1.85" fill="#fff" stroke="#3c3c3c" stroke-width="0.9"/>
<circle cx="162.30" cy="407.20" r="1.85" fill="#fff" stroke="#3c3c3c" stroke-width="0.9"/>
<circle cx="166.00" cy="406.00" r="1.85" fill="#fff" stroke="#3c3c3c" stroke-width="0.9"/>
<circle cx="169.70" cy="405.40" r="1.85" fill="#fff" stroke="#3c3c3c" stroke-width="0.9"/>
<circle cx="172.80" cy="404.80" r="1.85" fill="#fff" stroke="#3c3c3c" stroke-width="0.9"/>
<circle cx="176.40" cy="405.40" r="1.85" fill="#fff" stroke="#3c3c3c" stroke-width="0.9"/>
<circle cx="183.20" cy="402.90" r="1.85" fill="#fff" stroke="#3c3c3c" stroke-width="0.9"/>
<circle cx="186.90" cy="402.90" r="1.85" fill="#fff" stroke="#3c3c3c" stroke-width="0.9"/>
<circle cx="190.60" cy="403.80" r="1.85" fill="#fff" stroke="#3c3c3c" stroke-width="0.9"/>
<circle cx="194.30" cy="404.10" r="1.85" fill="#fff" stroke="#3c3c3c" stroke-width="0.9"/>
<circle cx="198.00" cy="402.90" r="1.85" fill="#fff" stroke="#3c3c3c" stroke-width="0.9"/>
<path d="M55.00,435.50 C55.42,435.18 56.67,434.10 57.50,433.60 C58.33,433.10 59.58,432.68 60.00,432.50" stroke="#555" stroke-width="2.6" stroke-linecap="round" fill="none"/>
<path d="M53.00,369.50 C53.03,368.92 53.03,367.00 53.20,366.00 C53.37,365.00 53.30,364.27 54.00,363.50 C54.70,362.73 55.82,362.02 57.40,361.40 C58.98,360.78 61.45,360.32 63.50,359.80 C65.55,359.28 66.93,358.92 69.70,358.30 C72.47,357.68 77.27,356.62 80.10,356.10 C82.93,355.58 84.58,355.65 86.70,355.20 C88.82,354.75 90.82,353.92 92.80,353.40 C94.78,352.88 95.73,352.62 98.60,352.10 C101.47,351.58 107.10,350.75 110.00,350.30 C112.90,349.85 113.92,349.67 116.00,349.40 C118.08,349.13 120.35,348.97 122.50,348.70 C124.65,348.43 126.08,348.30 128.90,347.80 C131.72,347.30 136.58,346.17 139.40,345.70 C142.22,345.23 143.65,345.27 145.80,345.00 C147.95,344.73 150.27,344.37 152.30,344.10 C154.33,343.83 155.10,343.83 158.00,343.40 C160.90,342.97 166.77,342.02 169.70,341.50 C172.63,340.98 173.60,340.67 175.60,340.30 C177.60,339.93 179.62,339.57 181.70,339.30 C183.78,339.03 185.10,338.98 188.10,338.70 C191.10,338.42 197.77,337.78 199.70,337.60" stroke="#ff0000" stroke-width="1.60" fill="none" stroke-dasharray="12.30 4.90 1.60 4.90 1.60 4.90" stroke-dashoffset="7.48"/>
<path d="M53.00,400.00 C53.08,399.58 53.10,398.17 53.50,397.50 C53.90,396.83 54.37,396.67 55.40,396.00 C56.43,395.33 57.87,394.22 59.70,393.50 C61.53,392.78 64.45,392.20 66.40,391.70 C68.35,391.20 69.45,390.97 71.40,390.50 C73.35,390.03 76.05,389.38 78.10,388.90 C80.15,388.42 81.85,387.95 83.70,387.60 C85.55,387.25 87.47,387.15 89.20,386.80 C90.93,386.45 92.35,385.90 94.10,385.50 C95.85,385.10 97.92,384.73 99.70,384.40 C101.48,384.07 103.00,383.77 104.80,383.50 C106.60,383.23 108.63,382.98 110.50,382.80 C112.37,382.62 114.17,382.60 116.00,382.40 C117.83,382.20 119.77,381.88 121.50,381.60 C123.23,381.32 124.65,381.00 126.40,380.70 C128.15,380.40 130.15,380.05 132.00,379.80 C133.85,379.55 135.67,379.50 137.50,379.20 C139.33,378.90 141.15,378.37 143.00,378.00 C144.85,377.63 146.73,377.30 148.60,377.00 C150.47,376.70 152.33,376.43 154.20,376.20 C156.07,375.97 158.03,375.85 159.80,375.60 C161.57,375.35 162.95,374.98 164.80,374.70 C166.65,374.42 169.07,374.17 170.90,373.90 C172.73,373.63 174.05,373.43 175.80,373.10 C177.55,372.77 179.55,372.18 181.40,371.90 C183.25,371.62 185.07,371.58 186.90,371.40 C188.73,371.22 190.27,371.03 192.40,370.80 C194.53,370.57 198.48,370.13 199.70,370.00" stroke="#ff0000" stroke-width="1.60" fill="none" stroke-dasharray="5.60 5.50" stroke-dashoffset="10.76"/>
<path d="M53.00,432.00 C53.17,431.58 53.50,430.12 54.00,429.50 C54.50,428.88 55.27,428.77 56.00,428.30 C56.73,427.83 56.15,427.48 58.40,426.70 C60.65,425.92 66.52,424.32 69.50,423.60 C72.48,422.88 73.32,422.90 76.30,422.40 C79.28,421.90 84.53,421.15 87.40,420.60 C90.27,420.05 90.63,419.75 93.50,419.10 C96.37,418.45 101.52,417.30 104.60,416.70 C107.68,416.10 108.37,416.08 112.00,415.50 C115.63,414.92 121.73,413.92 126.40,413.20 C131.07,412.48 136.07,411.70 140.00,411.20 C143.93,410.70 145.83,410.80 150.00,410.20 C154.17,409.60 160.00,408.38 165.00,407.60 C170.00,406.82 174.22,406.18 180.00,405.50 C185.78,404.82 196.42,403.83 199.70,403.50" stroke="#ff0000" stroke-width="1.60" fill="none" stroke-dasharray="11.60 6.00" stroke-dashoffset="8.76"/>
<path d="M53.00,446.00 C53.17,445.50 53.50,443.67 54.00,443.00 C54.50,442.33 55.18,442.25 56.00,442.00 C56.82,441.75 57.38,441.88 58.90,441.50 C60.42,441.12 62.23,440.32 65.10,439.70 C67.97,439.08 73.33,438.42 76.10,437.80 C78.87,437.18 79.65,436.47 81.70,436.00 C83.75,435.53 85.53,435.58 88.40,435.00 C91.27,434.42 96.13,433.10 98.90,432.50 C101.67,431.90 102.87,431.67 105.00,431.40 C107.13,431.13 108.73,431.38 111.70,430.90 C114.67,430.42 119.93,428.95 122.80,428.50 C125.67,428.05 126.85,428.42 128.90,428.20 C130.95,427.98 132.23,427.72 135.10,427.20 C137.97,426.68 143.23,425.53 146.10,425.10 C148.97,424.67 150.32,424.82 152.30,424.60 C154.28,424.38 155.10,424.20 158.00,423.80 C160.90,423.40 166.77,422.60 169.70,422.20 C172.63,421.80 173.55,421.75 175.60,421.40 C177.65,421.05 177.98,420.58 182.00,420.10 C186.02,419.62 196.75,418.77 199.70,418.50" stroke="#ff0000" stroke-width="1.60" fill="none" stroke-dasharray="11.60 4.90 1.60 4.90" stroke-dashoffset="6.58"/>
<path d="M53.00,461.50 C53.05,460.92 53.13,459.18 53.30,458.00 C53.47,456.82 53.37,455.37 54.00,454.40 C54.63,453.43 55.57,452.82 57.10,452.20 C58.63,451.58 60.95,451.25 63.20,450.70 C65.45,450.15 67.73,449.50 70.60,448.90 C73.47,448.30 76.72,447.82 80.40,447.10 C84.08,446.38 89.43,445.28 92.70,444.60 C95.97,443.92 96.73,443.63 100.00,443.00 C103.27,442.37 108.20,441.52 112.30,440.80 C116.40,440.08 120.50,439.37 124.60,438.70 C128.70,438.03 132.80,437.42 136.90,436.80 C141.00,436.18 144.97,435.52 149.20,435.00 C153.43,434.48 158.07,434.33 162.30,433.70 C166.53,433.07 170.50,431.88 174.60,431.20 C178.70,430.52 182.72,430.02 186.90,429.60 C191.08,429.18 197.57,428.85 199.70,428.70" stroke="#ff0000" stroke-width="1.60" fill="none"/>
<path d="M53.40,447.80 C53.42,446.67 53.32,442.88 53.50,441.00 C53.68,439.12 54.33,437.25 54.50,436.50" stroke="#000" stroke-width="4.4" stroke-linecap="round" fill="none"/>
<path d="M53.00,385.00 C53.00,387.00 53.00,392.92 53.00,397.00 C53.00,401.08 53.00,407.42 53.00,409.50" stroke="#000" stroke-width="3.4" stroke-linecap="round" fill="none"/>
<path d="M54.00,398.00 C54.50,398.17 56.00,398.50 57.00,399.00 C58.00,399.50 59.50,400.67 60.00,401.00" stroke="#000" stroke-width="2.4" stroke-linecap="round" fill="none"/>
<circle cx="56.60" cy="400.90" r="1.55" fill="#000"/>
<circle cx="59.70" cy="399.70" r="1.55" fill="#000"/>
<circle cx="60.30" cy="402.10" r="1.55" fill="#000"/>
<circle cx="63.70" cy="404.00" r="1.55" fill="#000"/>
<circle cx="67.10" cy="408.90" r="1.55" fill="#000"/>
<circle cx="70.80" cy="408.30" r="1.55" fill="#000"/>
<circle cx="73.80" cy="410.10" r="1.55" fill="#000"/>
<circle cx="81.20" cy="413.80" r="1.55" fill="#000"/>
<circle cx="88.00" cy="410.10" r="1.55" fill="#000"/>
<circle cx="95.40" cy="412.30" r="1.55" fill="#000"/>
<circle cx="106.20" cy="416.10" r="1.55" fill="#000"/>
<circle cx="112.90" cy="416.90" r="1.55" fill="#000"/>
<circle cx="119.70" cy="415.30" r="1.55" fill="#000"/>
<circle cx="127.70" cy="412.20" r="1.55" fill="#000"/>
<circle cx="134.40" cy="413.40" r="1.55" fill="#000"/>
<circle cx="141.80" cy="412.20" r="1.55" fill="#000"/>
<circle cx="148.00" cy="411.00" r="1.55" fill="#000"/>
<circle cx="154.90" cy="411.20" r="1.55" fill="#000"/>
<circle cx="162.30" cy="415.60" r="1.55" fill="#000"/>
<circle cx="169.40" cy="415.20" r="1.55" fill="#000"/>
<circle cx="176.20" cy="413.40" r="1.55" fill="#000"/>
<circle cx="183.60" cy="414.60" r="1.55" fill="#000"/>
<circle cx="194.30" cy="412.40" r="1.55" fill="#000"/>
<circle cx="198.00" cy="411.50" r="1.55" fill="#000"/>
<path d="M174.00,417.30H194.30" stroke="#404040" stroke-width="1.1"/>
<path d="M192.50,413.90L199.30,417.30L192.50,420.70Z" fill="#000"/>
<text x="42.80" y="515.00" text-anchor="end" font-size="8.6" class="b" textLength="13.8" lengthAdjust="spacingAndGlyphs">0.0</text>
<text x="42.80" y="486.25" text-anchor="end" font-size="8.6" class="b" textLength="13.8" lengthAdjust="spacingAndGlyphs">1.0</text>
<text x="42.80" y="457.50" text-anchor="end" font-size="8.6" class="b" textLength="13.8" lengthAdjust="spacingAndGlyphs">2.0</text>
<text x="42.80" y="428.75" text-anchor="end" font-size="8.6" class="b" textLength="13.8" lengthAdjust="spacingAndGlyphs">3.0</text>
<text x="42.80" y="400.00" text-anchor="end" font-size="8.6" class="b" textLength="13.8" lengthAdjust="spacingAndGlyphs">4.0</text>
<text x="42.80" y="371.25" text-anchor="end" font-size="8.6" class="b" textLength="13.8" lengthAdjust="spacingAndGlyphs">5.0</text>
<text x="42.80" y="342.50" text-anchor="end" font-size="8.6" class="b" textLength="13.8" lengthAdjust="spacingAndGlyphs">6.0</text>
<text x="42.80" y="313.75" text-anchor="end" font-size="8.6" class="b" textLength="13.8" lengthAdjust="spacingAndGlyphs">7.0</text>
<text x="42.80" y="285.00" text-anchor="end" font-size="8.6" class="b" textLength="13.8" lengthAdjust="spacingAndGlyphs">8.0</text>
<text x="210.10" y="515.10" font-size="8.6" class="b">0</text>
<text x="210.10" y="492.10" font-size="8.6" class="b" textLength="13.6" lengthAdjust="spacingAndGlyphs">0.1</text>
<text x="210.10" y="469.10" font-size="8.6" class="b" textLength="13.6" lengthAdjust="spacingAndGlyphs">0.2</text>
<text x="210.10" y="446.10" font-size="8.6" class="b" textLength="13.6" lengthAdjust="spacingAndGlyphs">0.3</text>
<text x="210.10" y="423.10" font-size="8.6" class="b" textLength="13.6" lengthAdjust="spacingAndGlyphs">0.4</text>
<text x="210.10" y="400.10" font-size="8.6" class="b" textLength="13.6" lengthAdjust="spacingAndGlyphs">0.5</text>
<text x="210.10" y="377.10" font-size="8.6" class="b" textLength="13.6" lengthAdjust="spacingAndGlyphs">0.6</text>
<text x="210.10" y="354.10" font-size="8.6" class="b" textLength="13.6" lengthAdjust="spacingAndGlyphs">0.7</text>
<text x="210.10" y="331.10" font-size="8.6" class="b" textLength="13.6" lengthAdjust="spacingAndGlyphs">0.8</text>
<text x="210.10" y="308.10" font-size="8.6" class="b" textLength="13.6" lengthAdjust="spacingAndGlyphs">0.9</text>
<text x="210.10" y="285.10" font-size="8.6" class="b">1</text>
<text x="53.40" y="530.20" text-anchor="middle" font-size="8.6" class="b">0</text>
<text x="90.08" y="530.20" text-anchor="middle" font-size="8.6" class="b" textLength="16" lengthAdjust="spacingAndGlyphs">250</text>
<text x="126.75" y="530.20" text-anchor="middle" font-size="8.6" class="b" textLength="16" lengthAdjust="spacingAndGlyphs">500</text>
<text x="163.42" y="530.20" text-anchor="middle" font-size="8.6" class="b" textLength="16" lengthAdjust="spacingAndGlyphs">750</text>
<text x="200.10" y="530.20" text-anchor="middle" font-size="8.6" class="b" textLength="22" lengthAdjust="spacingAndGlyphs">1000</text>
<text x="125.50" y="540.00" text-anchor="middle" font-size="10.6" class="b" textLength="43" lengthAdjust="spacingAndGlyphs">Time in h</text>
<text x="100.80" y="299.10" font-size="11" class="b" textLength="48.7" lengthAdjust="spacingAndGlyphs">PBT GB30</text>
<text x="57.90" y="503.40" font-size="10.8" fill="#262626" stroke="#262626" stroke-width="0.12" textLength="59.6" lengthAdjust="spacingAndGlyphs"><tspan font-style="italic">σ</tspan><tspan font-size="7.4" dy="2.4">0</tspan><tspan dy="-2.4"> = 11 MPa</tspan></text>
<text transform="translate(18.80,406.40) rotate(-90)" text-anchor="middle" font-size="9.5" class="b" textLength="180" lengthAdjust="spacingAndGlyphs">Creep Compliance <tspan font-style="italic">J</tspan> (t) in (1/MPa)/10<tspan font-size="7" dy="-3.6">4</tspan></text>
<text transform="translate(234.40,391.00) rotate(-90)" text-anchor="middle" font-size="9.6" class="b" textLength="119" lengthAdjust="spacingAndGlyphs">Adhesion Coefficient <tspan font-style="italic">k</tspan><tspan font-size="6.6" dy="2.6">adh</tspan></text>
</g>
<g>
<path d="M337.00,285.70V516.10 M373.90,285.70V516.10 M410.80,285.70V516.10 M300.10,487.30H447.70 M300.10,458.50H447.70 M300.10,429.70H447.70 M300.10,400.90H447.70 M300.10,372.10H447.70 M300.10,343.30H447.70 M300.10,314.50H447.70" stroke="#f0f0f0" stroke-width="1" fill="none"/>
<path d="M447.70,516.10H450.90 M447.70,493.06H450.90 M447.70,470.02H450.90 M447.70,446.98H450.90 M447.70,423.94H450.90 M447.70,400.90H450.90 M447.70,377.86H450.90 M447.70,354.82H450.90 M447.70,331.78H450.90 M447.70,308.74H450.90 M447.70,285.70H450.90" stroke="#9a9a9a" stroke-width="0.8" fill="none"/>
<path d="M299.20,285.70H447.70" stroke="#1a1a1a" stroke-width="1.8"/>
<path d="M299.20,516.10H447.70" stroke="#000" stroke-width="1.8"/>
<path d="M300.10,284.80V517.00" stroke="#000" stroke-width="1.9"/>
<path d="M447.70,284.80V517.00" stroke="#3c3c3c" stroke-width="1.8"/>
<circle cx="302.50" cy="423.00" r="1.85" fill="#fff" stroke="#3c3c3c" stroke-width="0.9"/>
<circle cx="303.80" cy="420.00" r="1.85" fill="#fff" stroke="#3c3c3c" stroke-width="0.9"/>
<circle cx="305.70" cy="417.60" r="1.85" fill="#fff" stroke="#3c3c3c" stroke-width="0.9"/>
<circle cx="308.10" cy="415.50" r="1.85" fill="#fff" stroke="#3c3c3c" stroke-width="0.9"/>
<circle cx="311.20" cy="413.30" r="1.85" fill="#fff" stroke="#3c3c3c" stroke-width="0.9"/>
<circle cx="314.30" cy="410.80" r="1.85" fill="#fff" stroke="#3c3c3c" stroke-width="0.9"/>
<circle cx="317.40" cy="409.00" r="1.85" fill="#fff" stroke="#3c3c3c" stroke-width="0.9"/>
<circle cx="321.50" cy="404.80" r="1.85" fill="#fff" stroke="#3c3c3c" stroke-width="0.9"/>
<circle cx="325.40" cy="400.00" r="1.85" fill="#fff" stroke="#3c3c3c" stroke-width="0.9"/>
<circle cx="329.00" cy="397.30" r="1.85" fill="#fff" stroke="#3c3c3c" stroke-width="0.9"/>
<circle cx="332.70" cy="394.60" r="1.85" fill="#fff" stroke="#3c3c3c" stroke-width="0.9"/>
<circle cx="336.40" cy="391.80" r="1.85" fill="#fff" stroke="#3c3c3c" stroke-width="0.9"/>
<circle cx="340.10" cy="388.70" r="1.85" fill="#fff" stroke="#3c3c3c" stroke-width="0.9"/>
<circle cx="343.20" cy="385.60" r="1.85" fill="#fff" stroke="#3c3c3c" stroke-width="0.9"/>
<circle cx="346.40" cy="382.40" r="1.85" fill="#fff" stroke="#3c3c3c" stroke-width="0.9"/>
<circle cx="350.10" cy="379.40" r="1.85" fill="#fff" stroke="#3c3c3c" stroke-width="0.9"/>
<circle cx="353.70" cy="375.90" r="1.85" fill="#fff" stroke="#3c3c3c" stroke-width="0.9"/>
<circle cx="356.80" cy="373.20" r="1.85" fill="#fff" stroke="#3c3c3c" stroke-width="0.9"/>
<circle cx="360.50" cy="370.10" r="1.85" fill="#fff" stroke="#3c3c3c" stroke-width="0.9"/>
<circle cx="364.10" cy="367.30" r="1.85" fill="#fff" stroke="#3c3c3c" stroke-width="0.9"/>
<circle cx="367.20" cy="364.60" r="1.85" fill="#fff" stroke="#3c3c3c" stroke-width="0.9"/>
<circle cx="370.90" cy="361.90" r="1.85" fill="#fff" stroke="#3c3c3c" stroke-width="0.9"/>
<circle cx="374.60" cy="359.10" r="1.85" fill="#fff" stroke="#3c3c3c" stroke-width="0.9"/>
<circle cx="378.30" cy="356.20" r="1.85" fill="#fff" stroke="#3c3c3c" stroke-width="0.9"/>
<circle cx="382.00" cy="353.30" r="1.85" fill="#fff" stroke="#3c3c3c" stroke-width="0.9"/>
<circle cx="384.80" cy="350.30" r="1.85" fill="#fff" stroke="#3c3c3c" stroke-width="0.9"/>
<circle cx="387.40" cy="347.30" r="1.85" fill="#fff" stroke="#3c3c3c" stroke-width="0.9"/>
<circle cx="389.40" cy="345.20" r="1.85" fill="#fff" stroke="#3c3c3c" stroke-width="0.9"/>
<circle cx="391.90" cy="343.20" r="1.85" fill="#fff" stroke="#3c3c3c" stroke-width="0.9"/>
<circle cx="394.30" cy="341.60" r="1.85" fill="#fff" stroke="#3c3c3c" stroke-width="0.9"/>
<circle cx="396.80" cy="340.30" r="1.85" fill="#fff" stroke="#3c3c3c" stroke-width="0.9"/>
<circle cx="399.70" cy="338.70" r="1.85" fill="#fff" stroke="#3c3c3c" stroke-width="0.9"/>
<circle cx="402.50" cy="335.80" r="1.85" fill="#fff" stroke="#3c3c3c" stroke-width="0.9"/>
<circle cx="404.80" cy="333.60" r="1.85" fill="#fff" stroke="#3c3c3c" stroke-width="0.9"/>
<circle cx="407.00" cy="331.70" r="1.85" fill="#fff" stroke="#3c3c3c" stroke-width="0.9"/>
<circle cx="409.90" cy="329.70" r="1.85" fill="#fff" stroke="#3c3c3c" stroke-width="0.9"/>
<circle cx="414.40" cy="325.60" r="1.85" fill="#fff" stroke="#3c3c3c" stroke-width="0.9"/>
<circle cx="417.30" cy="323.10" r="1.85" fill="#fff" stroke="#3c3c3c" stroke-width="0.9"/>
<circle cx="420.50" cy="319.80" r="1.85" fill="#fff" stroke="#3c3c3c" stroke-width="0.9"/>
<circle cx="423.80" cy="317.80" r="1.85" fill="#fff" stroke="#3c3c3c" stroke-width="0.9"/>
<circle cx="431.30" cy="309.60" r="1.85" fill="#fff" stroke="#3c3c3c" stroke-width="0.9"/>
<circle cx="434.80" cy="308.80" r="1.85" fill="#fff" stroke="#3c3c3c" stroke-width="0.9"/>
<circle cx="438.70" cy="305.50" r="1.85" fill="#fff" stroke="#3c3c3c" stroke-width="0.9"/>
<circle cx="442.20" cy="302.20" r="1.85" fill="#fff" stroke="#3c3c3c" stroke-width="0.9"/>
<circle cx="445.10" cy="298.30" r="1.85" fill="#fff" stroke="#3c3c3c" stroke-width="0.9"/>
<path d="M300.10,371.00 C300.13,370.33 300.15,368.17 300.30,367.00 C300.45,365.83 300.70,364.92 301.00,364.00 C301.30,363.08 301.18,362.73 302.10,361.50 C303.02,360.27 305.05,358.03 306.50,356.60 C307.95,355.17 309.48,354.00 310.80,352.90 C312.12,351.80 312.77,351.15 314.40,350.00 C316.03,348.85 318.75,347.20 320.60,346.00 C322.45,344.80 323.77,343.83 325.50,342.80 C327.23,341.77 329.15,340.82 331.00,339.80 C332.85,338.78 334.03,338.03 336.60,336.70 C339.17,335.37 343.83,333.17 346.40,331.80 C348.97,330.43 350.07,329.53 352.00,328.50 C353.93,327.47 356.08,326.53 358.00,325.60 C359.92,324.67 360.83,324.03 363.50,322.90 C366.17,321.77 371.28,319.83 374.00,318.80 C376.72,317.77 377.85,317.42 379.80,316.70 C381.75,315.98 383.70,315.32 385.70,314.50 C387.70,313.68 389.13,312.93 391.80,311.80 C394.47,310.67 399.05,308.75 401.70,307.70 C404.35,306.65 405.68,306.22 407.70,305.50 C409.72,304.78 411.83,304.05 413.80,303.40 C415.77,302.75 416.77,302.45 419.50,301.60 C422.23,300.75 427.38,299.15 430.20,298.30 C433.02,297.45 434.35,297.10 436.40,296.50 C438.45,295.90 440.62,295.25 442.50,294.70 C444.38,294.15 446.83,293.45 447.70,293.20" stroke="#ff0000" stroke-width="1.60" fill="none" stroke-dasharray="12.30 4.90 1.60 4.90 1.60 4.90" stroke-dashoffset="7.71"/>
<path d="M300.10,402.00 C300.17,401.33 300.27,399.17 300.50,398.00 C300.73,396.83 300.82,396.25 301.50,395.00 C302.18,393.75 303.47,391.78 304.60,390.50 C305.73,389.22 306.87,388.43 308.30,387.30 C309.73,386.17 311.57,384.82 313.20,383.70 C314.83,382.58 316.57,381.63 318.10,380.60 C319.63,379.57 320.85,378.43 322.40,377.50 C323.95,376.57 325.75,375.88 327.40,375.00 C329.05,374.12 330.67,373.02 332.30,372.20 C333.93,371.38 335.57,370.95 337.20,370.10 C338.83,369.25 340.47,368.02 342.10,367.10 C343.73,366.18 345.35,365.43 347.00,364.60 C348.65,363.77 350.37,362.92 352.00,362.10 C353.63,361.28 355.18,360.62 356.80,359.70 C358.42,358.78 360.07,357.47 361.70,356.60 C363.33,355.73 364.87,355.12 366.60,354.50 C368.33,353.88 370.35,353.52 372.10,352.90 C373.85,352.28 375.35,351.55 377.10,350.80 C378.85,350.05 380.87,349.13 382.60,348.40 C384.33,347.67 385.77,347.15 387.50,346.40 C389.23,345.65 391.25,344.60 393.00,343.90 C394.75,343.20 396.33,342.77 398.00,342.20 C399.67,341.63 401.33,341.08 403.00,340.50 C404.67,339.92 406.28,339.32 408.00,338.70 C409.72,338.08 411.47,337.45 413.30,336.80 C415.13,336.15 417.20,335.50 419.00,334.80 C420.80,334.10 422.40,333.18 424.10,332.60 C425.80,332.02 427.50,331.72 429.20,331.30 C430.90,330.88 432.50,330.57 434.30,330.10 C436.10,329.63 438.20,328.98 440.00,328.50 C441.80,328.02 443.82,327.53 445.10,327.20 C446.38,326.87 447.27,326.62 447.70,326.50" stroke="#ff0000" stroke-width="1.60" fill="none" stroke-dasharray="5.60 5.50" stroke-dashoffset="9.46"/>
<path d="M300.10,432.00 C300.25,431.33 300.38,429.48 301.00,428.00 C301.62,426.52 302.72,424.35 303.80,423.10 C304.88,421.85 305.85,421.73 307.50,420.50 C309.15,419.27 310.93,417.52 313.70,415.70 C316.47,413.88 321.55,411.03 324.10,409.60 C326.65,408.17 326.43,408.43 329.00,407.10 C331.57,405.77 336.92,403.08 339.50,401.60 C342.08,400.12 342.08,399.50 344.50,398.20 C346.92,396.90 351.33,395.10 354.00,393.80 C356.67,392.50 357.78,391.68 360.50,390.40 C363.22,389.12 367.65,387.22 370.30,386.10 C372.95,384.98 373.63,384.78 376.40,383.70 C379.17,382.62 384.23,380.70 386.90,379.60 C389.57,378.50 389.73,378.17 392.40,377.10 C395.07,376.03 400.27,374.15 402.90,373.20 C405.53,372.25 405.43,372.30 408.20,371.40 C410.97,370.50 416.68,368.65 419.50,367.80 C422.32,366.95 422.28,367.15 425.10,366.30 C427.92,365.45 433.67,363.65 436.40,362.70 C439.13,361.75 439.62,361.25 441.50,360.60 C443.38,359.95 446.67,359.10 447.70,358.80" stroke="#ff0000" stroke-width="1.60" fill="none" stroke-dasharray="11.60 6.00" stroke-dashoffset="12.90"/>
<path d="M300.10,445.00 C300.25,444.50 300.35,443.08 301.00,442.00 C301.65,440.92 302.50,440.00 304.00,438.50 C305.50,437.00 307.98,434.43 310.00,433.00 C312.02,431.57 314.25,430.93 316.10,429.90 C317.95,428.87 319.35,427.72 321.10,426.80 C322.85,425.88 324.05,425.73 326.60,424.40 C329.15,423.07 333.83,420.35 336.40,418.80 C338.97,417.25 340.25,416.12 342.00,415.10 C343.75,414.08 344.90,413.72 346.90,412.70 C348.90,411.68 351.82,410.20 354.00,409.00 C356.18,407.80 357.25,406.77 360.00,405.50 C362.75,404.23 367.05,402.88 370.50,401.40 C373.95,399.92 378.22,397.62 380.70,396.60 C383.18,395.58 383.75,395.82 385.40,395.30 C387.05,394.78 387.88,394.52 390.60,393.50 C393.32,392.48 398.93,390.30 401.70,389.20 C404.47,388.10 405.27,387.65 407.20,386.90 C409.13,386.15 410.48,385.58 413.30,384.70 C416.12,383.82 421.37,382.45 424.10,381.60 C426.83,380.75 427.83,380.23 429.70,379.60 C431.57,378.97 432.30,378.77 435.30,377.80 C438.30,376.83 445.63,374.47 447.70,373.80" stroke="#ff0000" stroke-width="1.60" fill="none" stroke-dasharray="11.60 4.90 1.60 4.90" stroke-dashoffset="8.98"/>
<path d="M300.10,463.00 C300.17,462.00 300.28,458.82 300.50,457.00 C300.72,455.18 300.63,453.73 301.40,452.10 C302.17,450.47 303.67,448.53 305.10,447.20 C306.53,445.87 307.95,445.40 310.00,444.10 C312.05,442.80 315.35,440.60 317.40,439.40 C319.45,438.20 319.43,438.45 322.30,436.90 C325.17,435.35 330.50,432.47 334.60,430.10 C338.70,427.73 342.80,425.12 346.90,422.70 C351.00,420.28 355.27,417.52 359.20,415.60 C363.13,413.68 365.20,413.23 370.50,411.20 C375.80,409.17 384.17,406.00 391.00,403.40 C397.83,400.80 404.67,397.82 411.50,395.60 C418.33,393.38 425.97,391.70 432.00,390.10 C438.03,388.50 445.08,386.68 447.70,386.00" stroke="#ff0000" stroke-width="1.60" fill="none"/>
<path d="M300.10,391.00 C300.10,395.83 300.10,410.43 300.10,420.00 C300.10,429.57 300.10,443.67 300.10,448.40" stroke="#000" stroke-width="3.4" stroke-linecap="round" fill="none"/>
<circle cx="300.80" cy="419.00" r="1.55" fill="#000"/>
<circle cx="301.43" cy="421.32" r="1.55" fill="#000"/>
<circle cx="302.06" cy="423.63" r="1.55" fill="#000"/>
<circle cx="302.76" cy="425.92" r="1.55" fill="#000"/>
<circle cx="303.85" cy="428.06" r="1.55" fill="#000"/>
<circle cx="304.94" cy="430.20" r="1.55" fill="#000"/>
<circle cx="306.53" cy="431.98" r="1.55" fill="#000"/>
<circle cx="308.36" cy="433.50" r="1.55" fill="#000"/>
<circle cx="310.43" cy="434.70" r="1.55" fill="#000"/>
<circle cx="313.70" cy="436.70" r="1.55" fill="#000"/>
<circle cx="317.40" cy="437.90" r="1.55" fill="#000"/>
<circle cx="321.50" cy="439.10" r="1.55" fill="#000"/>
<circle cx="329.00" cy="445.00" r="1.55" fill="#000"/>
<circle cx="335.80" cy="450.30" r="1.55" fill="#000"/>
<circle cx="342.60" cy="452.90" r="1.55" fill="#000"/>
<circle cx="350.00" cy="455.00" r="1.55" fill="#000"/>
<circle cx="356.90" cy="457.10" r="1.55" fill="#000"/>
<circle cx="360.70" cy="456.60" r="1.55" fill="#000"/>
<circle cx="367.50" cy="459.80" r="1.55" fill="#000"/>
<circle cx="374.50" cy="463.10" r="1.55" fill="#000"/>
<circle cx="381.70" cy="465.40" r="1.55" fill="#000"/>
<circle cx="388.90" cy="468.80" r="1.55" fill="#000"/>
<circle cx="395.90" cy="472.20" r="1.55" fill="#000"/>
<circle cx="403.10" cy="474.60" r="1.55" fill="#000"/>
<circle cx="410.30" cy="478.90" r="1.55" fill="#000"/>
<circle cx="417.30" cy="482.50" r="1.55" fill="#000"/>
<circle cx="424.10" cy="485.90" r="1.55" fill="#000"/>
<circle cx="431.30" cy="492.00" r="1.55" fill="#000"/>
<circle cx="438.70" cy="494.20" r="1.55" fill="#000"/>
<circle cx="446.00" cy="499.90" r="1.55" fill="#000"/>
<path d="M420.00,479.60H441.50" stroke="#404040" stroke-width="1.1"/>
<path d="M439.70,476.20L446.50,479.60L439.70,483.00Z" fill="#000"/>
<text x="289.90" y="519.10" text-anchor="end" font-size="8.6" class="b" textLength="13.8" lengthAdjust="spacingAndGlyphs">0.0</text>
<text x="289.90" y="490.30" text-anchor="end" font-size="8.6" class="b" textLength="13.8" lengthAdjust="spacingAndGlyphs">1.0</text>
<text x="289.90" y="461.50" text-anchor="end" font-size="8.6" class="b" textLength="13.8" lengthAdjust="spacingAndGlyphs">2.0</text>
<text x="289.90" y="432.70" text-anchor="end" font-size="8.6" class="b" textLength="13.8" lengthAdjust="spacingAndGlyphs">3.0</text>
<text x="289.90" y="403.90" text-anchor="end" font-size="8.6" class="b" textLength="13.8" lengthAdjust="spacingAndGlyphs">4.0</text>
<text x="289.90" y="375.10" text-anchor="end" font-size="8.6" class="b" textLength="13.8" lengthAdjust="spacingAndGlyphs">5.0</text>
<text x="289.90" y="346.30" text-anchor="end" font-size="8.6" class="b" textLength="13.8" lengthAdjust="spacingAndGlyphs">6.0</text>
<text x="289.90" y="317.50" text-anchor="end" font-size="8.6" class="b" textLength="13.8" lengthAdjust="spacingAndGlyphs">7.0</text>
<text x="289.90" y="288.70" text-anchor="end" font-size="8.6" class="b" textLength="13.8" lengthAdjust="spacingAndGlyphs">8.0</text>
<text x="458.10" y="519.20" font-size="8.6" class="b">0</text>
<text x="458.10" y="496.16" font-size="8.6" class="b" textLength="13.6" lengthAdjust="spacingAndGlyphs">0.1</text>
<text x="458.10" y="473.12" font-size="8.6" class="b" textLength="13.6" lengthAdjust="spacingAndGlyphs">0.2</text>
<text x="458.10" y="450.08" font-size="8.6" class="b" textLength="13.6" lengthAdjust="spacingAndGlyphs">0.3</text>
<text x="458.10" y="427.04" font-size="8.6" class="b" textLength="13.6" lengthAdjust="spacingAndGlyphs">0.4</text>
<text x="458.10" y="404.00" font-size="8.6" class="b" textLength="13.6" lengthAdjust="spacingAndGlyphs">0.5</text>
<text x="458.10" y="380.96" font-size="8.6" class="b" textLength="13.6" lengthAdjust="spacingAndGlyphs">0.6</text>
<text x="458.10" y="357.92" font-size="8.6" class="b" textLength="13.6" lengthAdjust="spacingAndGlyphs">0.7</text>
<text x="458.10" y="334.88" font-size="8.6" class="b" textLength="13.6" lengthAdjust="spacingAndGlyphs">0.8</text>
<text x="458.10" y="311.84" font-size="8.6" class="b" textLength="13.6" lengthAdjust="spacingAndGlyphs">0.9</text>
<text x="458.10" y="288.80" font-size="8.6" class="b">1</text>
<text x="300.50" y="534.70" text-anchor="middle" font-size="8.6" class="b">0</text>
<text x="337.40" y="534.70" text-anchor="middle" font-size="8.6" class="b" textLength="16" lengthAdjust="spacingAndGlyphs">250</text>
<text x="374.30" y="534.70" text-anchor="middle" font-size="8.6" class="b" textLength="16" lengthAdjust="spacingAndGlyphs">500</text>
<text x="411.20" y="534.70" text-anchor="middle" font-size="8.6" class="b" textLength="16" lengthAdjust="spacingAndGlyphs">750</text>
<text x="448.10" y="534.70" text-anchor="middle" font-size="8.6" class="b" textLength="22" lengthAdjust="spacingAndGlyphs">1000</text>
<text x="373.50" y="544.10" text-anchor="middle" font-size="10.6" class="b" textLength="43" lengthAdjust="spacingAndGlyphs">Time in h</text>
<text x="347.00" y="302.60" font-size="11" class="b" textLength="48.5" lengthAdjust="spacingAndGlyphs">PBT GB30</text>
<text x="304.20" y="506.70" font-size="10.8" fill="#262626" stroke="#262626" stroke-width="0.12" textLength="59.3" lengthAdjust="spacingAndGlyphs"><tspan font-style="italic">σ</tspan><tspan font-size="7.4" dy="2.4">0</tspan><tspan dy="-2.4"> = 22 MPa</tspan></text>
<text transform="translate(265.80,405.40) rotate(-90)" text-anchor="middle" font-size="9.5" class="b" textLength="180" lengthAdjust="spacingAndGlyphs">Creep Compliance <tspan font-style="italic">J</tspan> (t) in (1/MPa)/10<tspan font-size="7" dy="-3.6">4</tspan></text>
<text transform="translate(482.10,394.80) rotate(-90)" text-anchor="middle" font-size="9.6" class="b" textLength="119" lengthAdjust="spacingAndGlyphs">Adhesion Coefficient <tspan font-style="italic">k</tspan><tspan font-size="6.6" dy="2.6">adh</tspan></text>
</g>
</svg>
</body></html>
